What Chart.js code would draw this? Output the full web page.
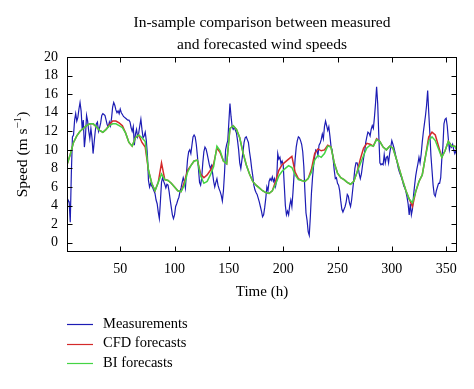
<!DOCTYPE html>
<html>
<head>
<meta charset="utf-8">
<script src="https://cdn.jsdelivr.net/npm/chart.js@4.4.1/dist/chart.umd.min.js"></script>
<style>
  html, body { margin: 0; padding: 0; background: #fff; }
  #chart { display: block; }
</style>
</head>
<body>
<canvas id="chart" width="474" height="389"></canvas>
<script>
// hourly measured wind speed, hours 1..360
const measuredSpeeds = [
  4.0, 4.6, 4.4, 2.2, 7.5, 11.4, 11.6, 13.2, 13.9, 13.1,
  13.5, 14.4, 15.1, 14.2, 12.2, 13.2, 10.3, 11.5, 13.7, 13.1,
  12.0, 11.2, 12.3, 11.3, 9.6, 10.8, 12.0, 12.8, 13.0, 12.0,
  12.4, 12.9, 13.7, 13.9, 13.8, 13.7, 13.2, 12.7, 12.5, 13.0,
  12.6, 13.4, 14.6, 15.1, 14.8, 14.3, 14.0, 14.2, 13.9, 14.4,
  14.0, 13.8, 13.6, 13.5, 13.4, 13.3, 13.2, 13.2, 13.0, 12.4,
  12.0, 12.5, 10.5, 11.7, 12.2, 11.4, 11.8, 12.6, 13.3, 12.2,
  11.3, 11.5, 11.9, 11.0, 9.5, 6.7, 6.0, 6.4, 6.1, 5.9,
  5.6, 5.3, 4.6, 4.2, 3.3, 2.6, 4.5, 6.5, 7.0, 6.6,
  6.3, 5.9, 6.3, 6.2, 5.5, 4.6, 3.8, 3.0, 2.6, 3.0,
  3.9, 4.2, 4.6, 4.9, 5.5, 5.9, 6.5, 7.0, 6.6, 5.9,
  7.5, 9.0, 9.8, 10.0, 9.6, 10.5, 11.4, 11.6, 11.4, 10.6,
  9.4, 8.0, 6.5, 6.2, 7.0, 8.6, 9.8, 10.3, 10.1, 9.6,
  9.0, 8.4, 8.0, 8.3, 7.5, 6.6, 6.0, 6.5, 6.9, 6.2,
  5.8, 5.5, 5.1, 4.5, 5.6, 7.5, 10.0, 10.6, 11.0, 13.0,
  15.0, 13.6, 12.5, 12.2, 12.4, 12.1, 11.8, 11.0, 10.0, 8.6,
  8.0, 8.9, 9.8, 10.8, 11.3, 11.4, 11.1, 10.8, 9.8, 9.0,
  8.0, 7.2, 6.2, 5.7, 5.4, 5.2, 4.8, 4.4, 3.9, 3.4,
  2.8, 3.0, 3.8, 4.8, 6.0, 5.6, 6.6, 6.9, 6.7, 7.1,
  6.6, 6.9, 6.1, 6.7, 9.6, 9.0, 9.2, 8.5, 8.8, 8.4,
  6.2, 4.0, 3.0, 3.4, 3.0, 4.0, 4.6, 3.9, 5.4, 7.3,
  9.0, 10.3, 11.0, 11.4, 11.3, 11.0, 10.6, 9.8, 8.2, 5.5,
  3.2, 2.4, 1.2, 0.8, 2.8, 5.3, 7.0, 8.3, 9.3, 10.0,
  9.9, 9.4, 10.5, 10.7, 11.1, 11.7, 11.2, 12.5, 13.1, 12.6,
  12.1, 12.5, 11.5, 10.4, 10.0, 9.0, 7.8, 6.9, 7.0, 6.4,
  6.2, 5.6, 4.5, 3.6, 3.3, 3.6, 3.9, 4.4, 5.2, 5.0,
  4.3, 3.9, 4.6, 5.7, 6.8, 8.0, 8.6, 8.6, 8.2, 7.4,
  6.9, 7.4, 8.3, 9.1, 9.8, 10.8, 11.4, 11.9, 11.8, 11.5,
  12.2, 12.6, 12.3, 13.5, 15.0, 16.8, 15.0, 11.6, 8.6, 8.4,
  8.5, 8.4, 9.5, 8.6, 9.2, 9.3, 8.6, 9.6, 10.3, 11.0,
  10.6, 10.2, 9.7, 9.1, 8.6, 8.0, 7.6, 7.3, 7.0, 6.6,
  6.1, 5.9, 5.5, 4.9, 4.2, 3.0, 4.2, 3.0, 3.6, 5.1,
  6.2, 7.2, 7.9, 8.5, 9.2, 8.6, 9.5, 10.8, 11.9, 12.8,
  13.7, 14.8, 16.4, 14.0, 11.8, 9.4, 7.8, 6.2, 5.2, 5.0,
  5.6, 6.0, 6.4, 6.4, 7.0, 9.0, 10.3, 12.8, 13.3, 13.4,
  12.6, 11.2, 10.0, 10.6, 10.3, 10.6, 10.0, 9.6, 9.9, 9.5
];

// forecasts read every 3 h (1, 4, 7, ... 358) plus hour 360
const cfdForecasts = [
  8.4, 9.5, 10.8, 11.5, 12.0, 12.3, 12.6, 12.8, 12.8, 12.5,
  12.1, 11.9, 12.2, 12.7, 13.1, 13.1, 12.9, 12.6, 11.8, 10.8,
  10.4, 11.3, 11.6, 10.8, 10.3, 7.8, 6.4, 5.6, 6.5, 8.6,
  6.8, 6.7, 6.4, 6.0, 5.6, 5.5, 6.5, 7.8, 8.3, 8.8,
  8.9, 7.4, 7.0, 7.3, 7.8, 8.5, 10.2, 9.7, 8.8, 8.5,
  12.3, 12.6, 12.2, 11.3, 9.7, 8.4, 7.4, 6.6, 6.2, 5.9,
  5.6, 5.4, 5.3, 5.6, 6.6, 7.8, 8.4, 8.7, 9.0, 9.3,
  7.6, 6.9, 6.7, 6.6, 6.9, 7.9, 9.6, 10.1, 9.9, 10.0,
  10.5, 10.3, 8.6, 7.5, 7.0, 6.8, 6.5, 6.3, 6.6, 7.6,
  9.0, 10.2, 10.7, 10.6, 10.4, 11.2, 10.9, 10.3, 10.0, 10.4,
  10.2, 9.1, 7.9, 6.7, 5.6, 4.7, 3.9, 5.5, 6.6, 7.3,
  9.3, 11.4, 11.9, 11.6, 10.4, 9.2, 9.9, 10.9, 10.4, 10.4,
  10.0
];

const biForecasts = [
  8.4, 9.5, 10.8, 11.5, 12.0, 12.3, 12.6, 12.8, 12.8, 12.5,
  12.1, 11.9, 12.2, 12.6, 12.8, 12.8, 12.6, 12.4, 11.8, 10.8,
  10.4, 11.3, 11.6, 11.3, 10.9, 7.8, 6.4, 5.6, 6.5, 7.4,
  6.8, 6.7, 6.4, 6.0, 5.6, 5.5, 6.2, 7.6, 8.3, 8.8,
  8.9, 7.2, 6.4, 6.6, 7.3, 8.2, 10.4, 9.9, 8.8, 8.5,
  12.3, 12.6, 12.2, 11.3, 9.7, 8.4, 7.4, 6.6, 6.2, 5.9,
  5.6, 5.4, 5.3, 5.6, 6.3, 7.2, 7.7, 8.0, 8.3, 8.1,
  7.3, 6.8, 6.7, 6.6, 6.9, 7.6, 8.9, 9.4, 9.2, 9.6,
  10.4, 10.3, 8.6, 7.5, 7.0, 6.8, 6.5, 6.3, 6.6, 7.6,
  8.5, 9.4, 10.2, 10.5, 10.4, 11.1, 10.9, 10.3, 10.0, 10.4,
  10.2, 9.1, 7.9, 6.7, 5.6, 4.7, 4.3, 5.5, 6.6, 7.3,
  9.3, 11.0, 11.4, 11.0, 10.1, 9.2, 9.9, 10.9, 10.4, 10.4,
  10.0
];

const xTicks = [50, 100, 150, 200, 250, 300, 350];
const yTicks = [0, 2, 4, 6, 8, 10, 12, 14, 16, 18, 20];
const seriesNames = ["Measurements", "CFD forecasts", "BI forecasts"];
const seriesColors = ["#1c1cb4", "#d42a2a", "#44d444"];
const titleLines = ["In-sample comparison between measured", "and forecasted wind speeds"];

const measuredHours = measuredSpeeds.map((_, i) => i + 1);
const forecastHours = biForecasts.map((_, i) => Math.min(1 + 3 * i, 360));

const toPoints = (xs, ys) => ys.map((v, i) => ({ x: xs[i], y: v }));

const serif = "'Liberation Serif', 'Times New Roman', serif";
Chart.defaults.font.family = serif;
Chart.defaults.color = "#000";

// box with inward ticks, titles and legend (matlab look)
const framePlugin = {
  id: "frame",
  afterDatasetsDraw(chart) {
    const { ctx, chartArea: a } = chart;
    const xs = chart.scales.x;
    const ys = chart.scales.y;
    const L = Math.round(a.left) + 0.5;
    const R = Math.round(a.right) - 0.5;
    const T = Math.round(a.top) + 0.5;
    const B = Math.round(a.bottom) - 0.5;
    const tick = 5;

    ctx.save();
    ctx.strokeStyle = "#000";
    ctx.lineWidth = 1;
    ctx.strokeRect(L, T, R - L, B - T);

    ctx.beginPath();
    xTicks.forEach((v) => {
      const px = Math.round(xs.getPixelForValue(v)) + 0.5;
      ctx.moveTo(px, B); ctx.lineTo(px, B - tick);
      ctx.moveTo(px, T); ctx.lineTo(px, T + tick);
    });
    yTicks.forEach((v) => {
      const py = Math.round(ys.getPixelForValue(v)) + 0.5;
      ctx.moveTo(L, py); ctx.lineTo(L + tick, py);
      ctx.moveTo(R, py); ctx.lineTo(R - tick, py);
    });
    ctx.stroke();

    // chart title
    const cx = (a.left + a.right) / 2;
    ctx.fillStyle = "#000";
    ctx.textAlign = "center";
    ctx.textBaseline = "middle";
    ctx.font = `15.5px ${serif}`;
    ctx.fillText(titleLines[0], cx, 23);
    ctx.fillText(titleLines[1], cx, 45);

    // axis titles
    ctx.font = `15px ${serif}`;
    ctx.fillText("Time (h)", cx, 292);

    ctx.save();
    ctx.translate(23, (a.top + a.bottom) / 2);
    ctx.rotate(-Math.PI / 2);
    const main = "Speed (m s";
    ctx.font = `15.5px ${serif}`;
    const wMain = ctx.measureText(main).width;
    ctx.font = `11px ${serif}`;
    const wSup = ctx.measureText("\u22121").width;
    ctx.font = `15.5px ${serif}`;
    const wEnd = ctx.measureText(")").width;
    let tx = -(wMain + wSup + wEnd) / 2;
    ctx.textAlign = "left";
    ctx.fillText(main, tx, 0);
    tx += wMain;
    ctx.font = `11px ${serif}`;
    ctx.fillText("\u22121", tx, -5);
    tx += wSup;
    ctx.font = `15.5px ${serif}`;
    ctx.fillText(")", tx, 0);
    ctx.restore();

    // legend below the axes
    ctx.textAlign = "left";
    ctx.font = `14.5px ${serif}`;
    chart.data.datasets.forEach((ds, i) => {
      const ly = 324 + i * 19.5;
      ctx.strokeStyle = ds.borderColor;
      ctx.lineWidth = 1.2;
      ctx.beginPath();
      ctx.moveTo(67, Math.round(ly) + 0.5);
      ctx.lineTo(93, Math.round(ly) + 0.5);
      ctx.stroke();
      ctx.fillText(ds.label, 103, ly);
    });
    ctx.restore();
  }
};

new Chart(document.getElementById("chart"), {
  type: "line",
  data: {
    datasets: [
      {
        label: seriesNames[0],
        data: toPoints(measuredHours, measuredSpeeds),
        borderColor: seriesColors[0],
        borderWidth: 1.2,
        order: 3
      },
      {
        label: seriesNames[1],
        data: toPoints(forecastHours, cfdForecasts),
        borderColor: seriesColors[1],
        borderWidth: 1.5,
        order: 2
      },
      {
        label: seriesNames[2],
        data: toPoints(forecastHours, biForecasts),
        borderColor: seriesColors[2],
        borderWidth: 1.5,
        order: 1
      }
    ]
  },
  options: {
    responsive: false,
    animation: false,
    parsing: false,
    elements: {
      point: { radius: 0 },
      line: { tension: 0, fill: false }
    },
    layout: { padding: { top: 57, right: 17, bottom: 82, left: 0 } },
    plugins: {
      legend: { display: false },
      title: { display: false },
      tooltip: { enabled: false }
    },
    scales: {
      x: {
        type: "linear",
        min: 1,
        max: 360,
        grid: { display: false, drawTicks: false },
        border: { display: false },
        ticks: { font: { size: 14 }, padding: 9, maxRotation: 0, autoSkip: false },
        afterBuildTicks: (scale) => { scale.ticks = xTicks.map((v) => ({ value: v })); },
        afterFit: (scale) => { scale.height = 55; }
      },
      y: {
        type: "linear",
        min: -1,
        max: 20,
        grid: { display: false, drawTicks: false },
        border: { display: false },
        ticks: { font: { size: 14 }, padding: 9, autoSkip: false },
        afterBuildTicks: (scale) => { scale.ticks = yTicks.map((v) => ({ value: v })); },
        afterFit: (scale) => { scale.width = 67; }
      }
    }
  },
  plugins: [framePlugin]
});
</script>
</body>
</html>
